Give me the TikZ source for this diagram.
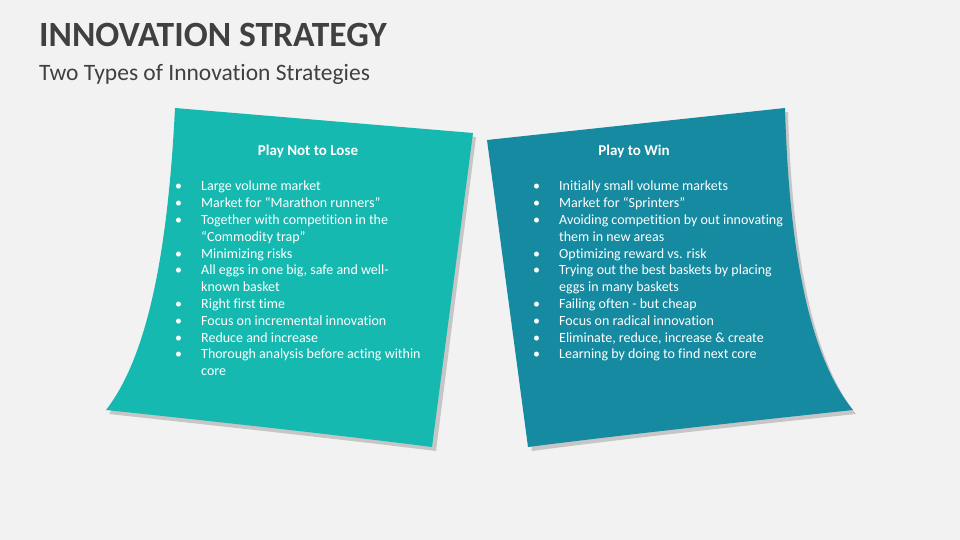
\documentclass[tikz,border=0pt]{standalone}
\usepackage{fontspec}
\setmainfont{Carlito}[Ligatures={NoCommon,NoContextual}]
\definecolor{bg}{HTML}{F2F2F2}
\definecolor{ttl}{HTML}{404040}
\definecolor{tealA}{HTML}{15B9B0}
\definecolor{tealB}{HTML}{168AA0}
\tikzset{
  shade/.style={fill=black,opacity=0.18},
  head/.style={text=white,font=\bfseries\fontsize{15}{18}\selectfont},
  list/.style={anchor=north west,text=white,inner sep=0pt,font=\fontsize{14}{16.8}\selectfont,align=left}
}
\begin{document}
\begin{tikzpicture}[x=1pt,y=-1pt]
\fill[bg] (0,0) rectangle (960,540);
\useasboundingbox (0,0) rectangle (960,540);
\node[anchor=west,text=ttl,font=\bfseries\fontsize{35.5}{40}\selectfont,inner sep=0pt] (title) at (39,35) {INNOVATION STRATEGY};
\node[anchor=west,text=ttl,font=\fontsize{23.5}{26}\selectfont,inner sep=0pt] (sub) at (39,74) {Two Types of Innovation Strategies};
% shadows
\fill[shade] (178,112) -- (476,137) -- (436,451) .. controls (330,438) and (210,425) .. (109,414) .. controls (150,360) and (170,250) .. (178,112) -- cycle;
\fill[shade] (490,144) -- (788,112) .. controls (792,250) and (812,360) .. (856,414) .. controls (750,425) and (630,438) .. (532,451) -- cycle;
% left paper
\fill[tealA] (175,108) -- (473,133) -- (432,447) .. controls (330,434) and (210,421) .. (106,410) .. controls (148,356) and (168,250) .. (175,108) -- cycle;
% right paper
\fill[tealB] (487,140) -- (785,108) .. controls (789,250) and (809,356) .. (853,410) .. controls (750,421) and (630,434) .. (528,447) -- cycle;
\node[head] (h1) at (308,151) {Play Not to Lose};
\node[head] (h2) at (634,151) {Play to Win};
\node[list] (l1) at (175,179) {\begin{tabular}{@{}p{26pt}@{}l@{}}
\textbullet & Large volume market\\
\textbullet & Market for “Marathon runners”\\
\textbullet & Together with competition in the\\
 & “Commodity trap”\\
\textbullet & Minimizing risks\\
\textbullet & All eggs in one big, safe and well-\\
 & known basket\\
\textbullet & Right first time\\
\textbullet & Focus on incremental innovation\\
\textbullet & Reduce and increase\\
\textbullet & Thorough analysis before acting within\\
 & core
\end{tabular}};
\node[list] (l2) at (533,179) {\begin{tabular}{@{}p{26pt}@{}l@{}}
\textbullet & Initially small volume markets\\
\textbullet & Market for “Sprinters”\\
\textbullet & Avoiding competition by out innovating\\
 & them in new areas\\
\textbullet & Optimizing reward vs. risk\\
\textbullet & Trying out the best baskets by placing\\
 & eggs in many baskets\\
\textbullet & Failing often - but cheap\\
\textbullet & Focus on radical innovation\\
\textbullet & Eliminate, reduce, increase \& create\\
\textbullet & Learning by doing to find next core
\end{tabular}};
\end{tikzpicture}
\end{document}
